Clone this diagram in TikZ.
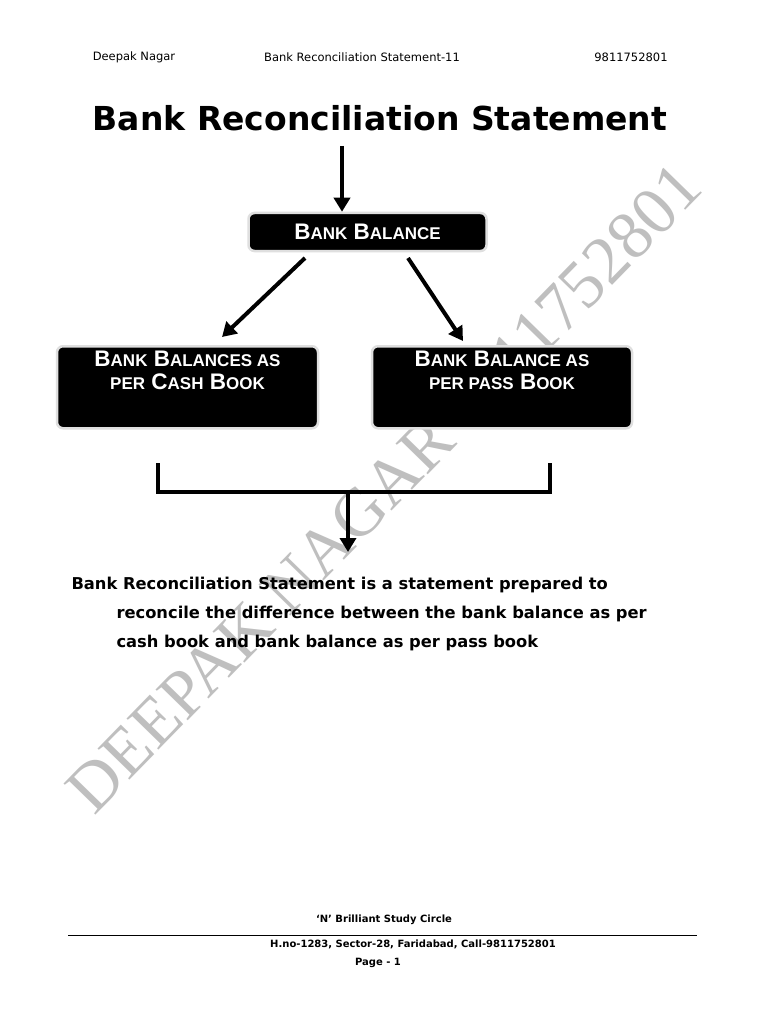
\documentclass[tikz,border=0pt]{standalone}
\usepackage{fontspec}
\setmainfont{DejaVu Sans}
\newfontfamily\wmfont{Liberation Serif}
\newfontfamily\boxfont{Liberation Sans}
\usetikzlibrary{arrows.meta}
\newcommand{\sct}[2]{#1{\fontsize{17}{20}\selectfont #2}}
\begin{document}
\begin{tikzpicture}[x=1pt,y=-1pt,
  blackbox/.style={fill=black,rounded corners=6pt,draw=gray!25,line width=2.5pt,text=white,font=\boxfont\bfseries\fontsize{22.5}{23}\selectfont,align=center},
  thick arrow/.style={line width=4pt,-{Triangle[length=14pt,width=16pt]}},
  hdr/.style={font=\fontsize{11.5}{14}\selectfont}]
\useasboundingbox (0,0) rectangle (768,1024);
\fill[white] (0,0) rectangle (768,1024);
% watermark
\node[rotate=45.7,text=gray!50,font=\wmfont\fontsize{68}{70}\selectfont] (wm) at (384,488) {DEEPAK NAGAR 9811752801};
% header
\node[hdr] (h1) at (134,57) {Deepak Nagar};
\node[hdr] (h2) at (362,57) {Bank Reconciliation Statement-11};
\node[hdr] (h3) at (631,57) {9811752801};
% title
\node[font=\bfseries\fontsize{33}{40}\selectfont] (title) at (380,118) {Bank Reconciliation Statement};
\coordinate (ts) at (342,146);
% boxes
\node[blackbox,minimum width=238pt,minimum height=38pt] (bb) at (367.5,232) {\sct{B}{ANK} \sct{B}{ALANCE}};
\node[blackbox,minimum width=261pt,minimum height=82pt,anchor=north] (lb) at (187.5,345) {\sct{B}{ANK} \sct{B}{ALANCES AS}\\[0pt]\sct{}{PER} \sct{C}{ASH} \sct{B}{OOK}\\[10pt]};
\node[blackbox,minimum width=260pt,minimum height=82pt,anchor=north] (rb) at (502,345) {\sct{B}{ANK} \sct{B}{ALANCE AS}\\[0pt]\sct{}{PER PASS} \sct{B}{OOK}\\[10pt]};
\draw[thick arrow] (ts) -- (bb.north -| ts);
\draw[thick arrow] (305,258) -- (222,337);
\draw[thick arrow] (408,258) -- (463,341);
% bracket
\coordinate (bl) at (158,463);
\coordinate (br) at (550,463);
\draw[line width=4.5pt] (bl) -- (158,492) -- (550,492) -- (br);
\coordinate (ae) at (348,552);
\draw[thick arrow] (348,494) -- (ae);
% body text
\tikzset{body/.style={anchor=base west,font=\bfseries\fontsize{16.3}{20}\selectfont}}
\node[body] (t1) at (68,589) {Bank Reconciliation Statement is a statement prepared to};
\node[body] (t2) at (113,618) {reconcile the difference between the bank balance as per};
\node[body] (t3) at (113,647) {cash book and bank balance as per pass book};
% footer
\tikzset{foot/.style={font=\bfseries\fontsize{10}{12}\selectfont}}
\node[foot] (f1) at (384,920) {`N' Brilliant Study Circle};
\coordinate (fl) at (68,935);
\coordinate (fr) at (697,935);
\draw[line width=0.8pt] (fl) -- (fr);
\node[foot] (f2) at (413,944) {H.no-1283, Sector-28, Faridabad, Call-9811752801};
\node[foot] (f3) at (378,963) {Page - 1};
\end{tikzpicture}
\end{document}
